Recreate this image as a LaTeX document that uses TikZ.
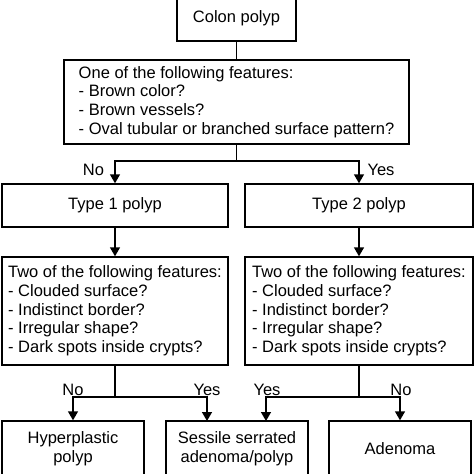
\documentclass[tikz,border=0pt]{standalone}
\usepackage{fontspec}
\setmainfont{Liberation Sans}
\usetikzlibrary{arrows.meta}
\usetikzlibrary{positioning}

\begin{document}
\begin{tikzpicture}[x=1pt,y=-1pt,
  box/.style={draw,line width=1.4pt,align=center,inner sep=0pt,font=\fontsize{16.5}{18.7}\selectfont},
  lbl/.style={inner sep=0pt,anchor=base,font=\fontsize{16.5}{18.7}\selectfont},
  line/.style={line width=1.4pt},
  arr/.style={line width=1.4pt,-{Triangle[width=10pt,length=9pt]}}]
  \useasboundingbox (0,0) rectangle (474,474);
  \clip (0,0) rectangle (474,474);

  \node[box,minimum width=119pt,minimum height=46pt] (colon) at (236.5,18) {Colon polyp};
  \node[box,align=left,minimum width=345pt,minimum height=84pt] (feat) at (236.5,102)
    {One of the following features:\\- Brown color?\\- Brown vessels?\\- Oval tubular or branched surface pattern?};

  \node[box,minimum width=226pt,minimum height=43pt] (type1) at (115,205.5) {Type 1 polyp};
  \node[box,minimum width=228pt,minimum height=43pt] (type2) at (359,205.5) {Type 2 polyp};

  \node[box,align=left,minimum width=226pt,minimum height=108pt] (two1) at (115,311)
    {Two of the following features:\\- Clouded surface?\\- Indistinct border?\\- Irregular shape?\\- Dark spots inside crypts?};
  \node[box,align=left,minimum width=228pt,minimum height=108pt] (two2) at (359,311)
    {Two of the following features:\\- Clouded surface?\\- Indistinct border?\\- Irregular shape?\\- Dark spots inside crypts?};

  \node[box,minimum width=142pt,minimum height=56pt] (hyper) at (73,449) {Hyperplastic\\polyp};
  \node[box,minimum width=142pt,minimum height=56pt] (ssa) at (237,449) {Sessile serrated\\adenoma/polyp};
  \node[box,minimum width=142pt,minimum height=56pt] (aden) at (400,449) {Adenoma};

  % labels
  \node[lbl] (no1) at (93.5,175) {No};
  \node[lbl] (yes1) at (381,175) {Yes};
  \node[lbl] (no2) at (73,395) {No};
  \node[lbl] (yes2) at (207,395) {Yes};
  \node[lbl] (yes3) at (267,395) {Yes};
  \node[lbl] (no3) at (401,395) {No};

  % junctions
  \coordinate (split1) at (236.5,161);
  \coordinate (split2) at (115,397);
  \coordinate (split3) at (359,397);
  \coordinate (in1) at (207,421);
  \coordinate (in2) at (266,421);

  \draw[line](colon.south)--(feat.north);
  \draw[line](feat.south)--(split1);
  \draw[arr](split1)-|(type1.north);
  \draw[arr](split1)-|(type2.north);
  \draw[arr](type1.south)--(two1.north);
  \draw[arr](type2.south)--(two2.north);
  \draw[line](two1.south)--(split2);
  \draw[arr](split2)-|(hyper.north);
  \draw[arr](split2)-|(in1);
  \draw[line](two2.south)--(split3);
  \draw[arr](split3)-|(in2);
  \draw[arr](split3)-|(aden.north);
\end{tikzpicture}
\end{document}
